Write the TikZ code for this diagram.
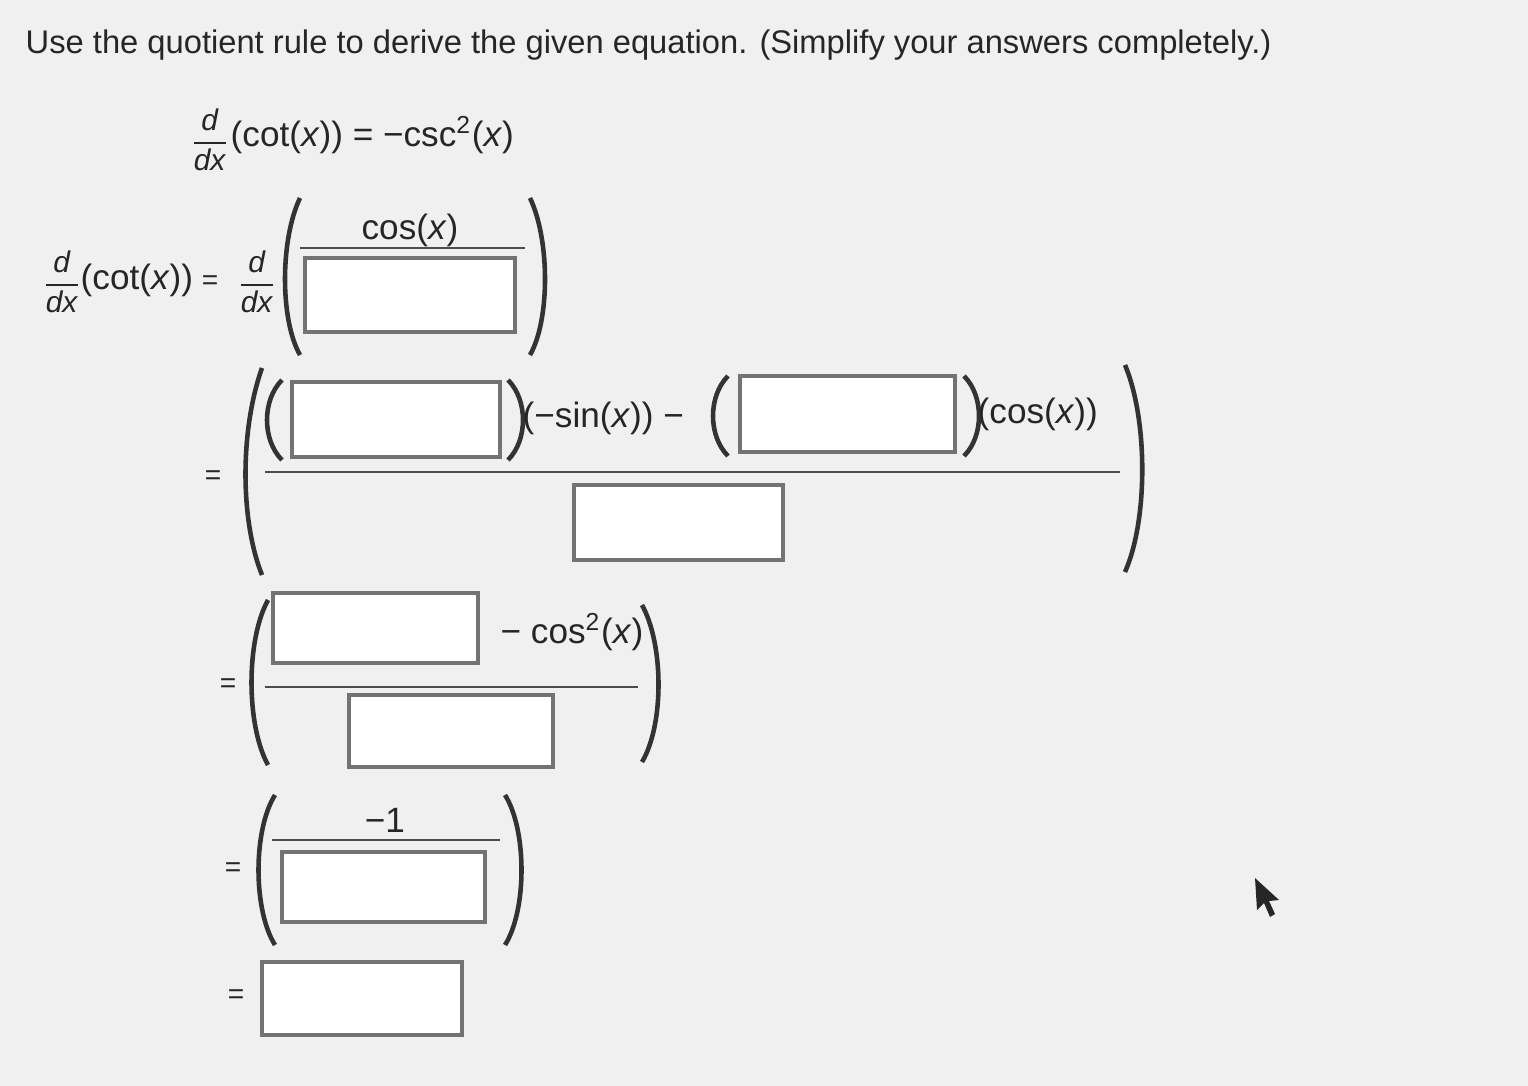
\documentclass[tikz,border=0pt]{standalone}
\usepackage{amsmath}
\usepackage{fontspec}
\setmainfont{Liberation Sans}
\newcommand{\myddx}{\fontsize{8.5}{10}\selectfont$\dfrac{\text{\textit{d}}}{\text{\textit{dx}}}$}
\begin{document}
\begin{tikzpicture}[x=0.01cm,y=-0.01cm,
  every node/.style={inner sep=0pt,font=\fontsize{10}{12}\selectfont,text=black!85},
  ansbox/.style={draw=black!55,line width=0.9pt,fill=white},
  paren/.style={draw=black!80,line width=1.3pt},
  fracline/.style={draw=black!70,line width=0.7pt}]
\fill[red!8!cyan!5!black!6] (0,0) rectangle (1528,1086);
\useasboundingbox (0,0) rectangle (1528,1086);
\node[anchor=west,font=\fontsize{9.3}{11}\selectfont] (title) at (25,45) {Use the quotient rule to derive the given equation. (Simplify your answers completely.)};
% line 1
\node (l1a) at (210,140) {\myddx};
\node[anchor=west] (l1b) at (230,135) {(cot(\textit{x})) = −csc\textsuperscript{2}(\textit{x})};
% line 2
\node (l2a) at (62,282) {\myddx};
\node[anchor=west] (l2b) at (80,280) {(cot(\textit{x}))};
\node[font=\fontsize{8}{10}\selectfont] (l2e) at (210,283) {=};
\node (l2c) at (257,282) {\myddx};
\draw[paren] (300,198) .. controls (280,240) and (280,320) .. (300,355);
\node (l2n) at (410,230) {cos(\textit{x})};
\draw[fracline] (300,248) -- (525,248);
\draw[ansbox] (305,258) rectangle (515,332);
\draw[paren] (530,198) .. controls (550,240) and (550,320) .. (530,355);
% line 3
\node[font=\fontsize{8}{10}\selectfont] (l3e) at (213,478) {=};
\draw[paren] (262,368) .. controls (240,430) and (240,520) .. (262,575);
\draw[paren] (282,380) .. controls (262,400) and (262,440) .. (282,460);
\draw[ansbox] (292,382) rectangle (500,457);
\draw[paren] (508,380) .. controls (528,400) and (528,440) .. (508,460);
\node[anchor=west] (l3a) at (522,418) {(−sin(\textit{x})) −};
\draw[paren] (728,376) .. controls (708,396) and (708,436) .. (728,456);
\draw[ansbox] (740,376) rectangle (955,452);
\draw[paren] (964,376) .. controls (984,396) and (984,436) .. (964,456);
\node[anchor=west] (l3b) at (977,414) {(cos(\textit{x}))};
\draw[fracline] (265,472) -- (1120,472);
\draw[ansbox] (574,485) rectangle (783,560);
\draw[paren] (1125,365) .. controls (1148,420) and (1148,520) .. (1125,572);
% line 4
\node[font=\fontsize{8}{10}\selectfont] (l4e) at (228,686) {=};
\draw[paren] (268,600) .. controls (246,640) and (246,725) .. (268,765);
\draw[ansbox] (273,593) rectangle (478,663);
\node[anchor=west] (l4a) at (500,632) {− cos\textsuperscript{2}(\textit{x})};
\draw[fracline] (265,687) -- (638,687);
\draw[ansbox] (349,695) rectangle (553,767);
\draw[paren] (642,605) .. controls (664,645) and (664,725) .. (642,762);
% line 5
\node[font=\fontsize{8}{10}\selectfont] (l5e) at (233,870) {=};
\draw[paren] (275,795) .. controls (253,830) and (253,910) .. (275,945);
\node (l5n) at (385,820) {−1};
\draw[fracline] (272,840) -- (500,840);
\draw[ansbox] (282,852) rectangle (485,922);
\draw[paren] (505,795) .. controls (527,830) and (527,910) .. (505,945);
% line 6
\node[font=\fontsize{8}{10}\selectfont] (l6e) at (236,997) {=};
\draw[ansbox] (262,962) rectangle (462,1035);
% cursor
\fill[black!85] (1255,878) -- (1257,910) -- (1264,903) -- (1270,917) -- (1275,914) -- (1269,901) -- (1279,900) -- cycle;
\end{tikzpicture}
\end{document}
